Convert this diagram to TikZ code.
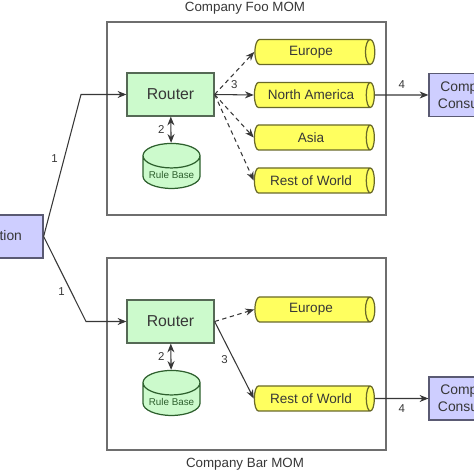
\documentclass[tikz,border=0pt]{standalone}
\usepackage{fontspec}
\setmainfont{Liberation Sans}
\usepackage{xcolor}
\usetikzlibrary{shapes.geometric,arrows.meta}

\definecolor{momgray}{RGB}{110,110,110}
\definecolor{linegray}{RGB}{55,55,55}
\definecolor{routerfill}{RGB}{204,250,204}
\definecolor{routerline}{RGB}{85,105,85}
\definecolor{rulegreen}{RGB}{45,95,45}
\definecolor{queuefill}{RGB}{255,255,95}
\definecolor{queueline}{RGB}{105,105,40}
\definecolor{clientfill}{RGB}{206,206,255}
\definecolor{clientline}{RGB}{90,90,115}

\begin{document}
\begin{tikzpicture}[
        mom/.style={rectangle, draw=momgray, line width=0.8pt},
        momname/.style={text=linegray, font=\fontsize{7.6}{9}\selectfont},
        router/.style={rectangle, draw=routerline, fill=routerfill, line width=0.7pt, minimum width=1.74cm, minimum height=0.86cm, text=linegray, font=\fontsize{9}{11}\selectfont},
        rulebase/.style={cylinder, shape border rotate=90, aspect=0.5, draw=rulegreen, fill=routerfill, line width=0.7pt, minimum width=1.14cm, minimum height=0.9cm, inner sep=1pt, text=rulegreen, font=\fontsize{5.6}{7}\selectfont},
        queue/.style={cylinder, aspect=0.6, draw=queueline, fill=queuefill, line width=0.7pt, minimum height=2.4cm, minimum width=0.5cm, inner sep=1pt, text=linegray, font=\fontsize{7.7}{9}\selectfont},
        client/.style={rectangle, draw=clientline, fill=clientfill, line width=0.7pt, minimum height=0.86cm, align=center, text=linegray, font=\fontsize{7.9}{9.5}\selectfont},
        step label/.style={text=linegray, font=\fontsize{6.5}{8}\selectfont},
        arrow/.style={-{Stealth[length=5pt,width=4pt]}, line width=0.6pt, draw=linegray},
        twoway/.style={{Stealth[length=5pt,width=4pt]}-{Stealth[length=5pt,width=4pt]}, line width=0.6pt, draw=linegray},
        maybe/.style={arrow, dash pattern=on 2.5pt off 2pt}
    ]
        \useasboundingbox (0,0) rectangle (9.48,9.48);
        \clip (0,0) rectangle (9.48,9.48);

        % Application
        \node[client, minimum width=2.2cm] (app) at (-0.24,4.75) {Application};

        % Company Foo MOM
        \node[mom, minimum width=5.58cm, minimum height=3.86cm] (foo) at (4.93,7.11) {};
        \node[momname] (fooname) at (4.9,9.32) {Company Foo MOM};
        \node[router] (routerfoo) at (3.41,7.59) {Router};
        \node[rulebase] (rulefoo) at (3.43,5.99) {Rule Base};
        \node[queue] (eufoo) at (6.22,8.44) {Europe};
        \node[queue] (nafoo) at (6.22,7.58) {North America};
        \node[queue] (asiafoo) at (6.22,6.73) {Asia};
        \node[queue] (rowfoo) at (6.22,5.87) {Rest of World};

        % Company Bar MOM
        \node[mom, minimum width=5.58cm, minimum height=3.84cm] (bar) at (4.93,2.40) {};
        \node[momname] (barname) at (4.9,0.2) {Company Bar MOM};
        \node[router] (routerbar) at (3.41,3.05) {Router};
        \node[rulebase] (rulebar) at (3.43,1.45) {Rule Base};
        \node[queue] (eubar) at (6.22,3.29) {Europe};
        \node[queue] (rowbar) at (6.22,1.51) {Rest of World};

        % Consumers
        \node[client, minimum width=1.64cm] (consfoo) at (9.4,7.58) {Company\\Consumer};
        \node[client, minimum width=1.64cm] (consbar) at (9.4,1.51) {Company\\Consumer};

        % Bends
        \coordinate (bendfoo) at (1.62,7.59);
        \coordinate (bendbar) at (1.72,3.05);

        % Arrows
        \draw[arrow] (app.east) -- node[step label, pos=0.55, left] {1} (bendfoo) -- (routerfoo.west);
        \draw[arrow] (app.east) -- node[step label, pos=0.65, left] {1} (bendbar) -- (routerbar.west);
        \draw[twoway] (routerfoo) -- node[step label, left] {2} (rulefoo);
        \draw[twoway] (routerbar) -- node[step label, left] {2} (rulebar);
        \draw[maybe] (routerfoo.east) -- (eufoo.west);
        \draw[arrow] (routerfoo.east) -- node[step label, above] {3} (nafoo.west);
        \draw[maybe] (routerfoo.east) -- (asiafoo.west);
        \draw[maybe] (routerfoo.east) -- (rowfoo.west);
        \draw[maybe] (routerbar.east) -- (eubar.west);
        \draw[arrow] (routerbar.east) -- node[step label, left] {3} (rowbar.west);
        \draw[arrow] (nafoo.east) -- node[step label, above] {4} (consfoo.west);
        \draw[arrow] (rowbar.east) -- node[step label, below] {4} (consbar.west);
    \end{tikzpicture}
\end{document}
